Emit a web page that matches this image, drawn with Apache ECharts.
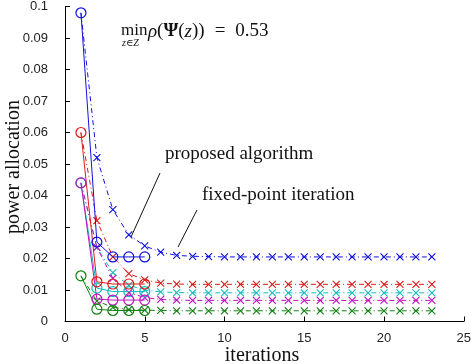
<!DOCTYPE html>
<html>
<head>
<meta charset="utf-8">
<script src="https://cdn.jsdelivr.net/npm/echarts@6/dist/echarts.min.js"></script>
<style>html,body{margin:0;padding:0;background:#fff;}#c{width:474px;height:364px;}</style>
</head>
<body>
<div id="c"></div>
<script>
// ---- data ----
var iterProposed = [1, 2, 3, 4, 5];
var iterFixed = [1, 2, 3, 4, 5, 6, 7, 8, 9, 10, 11, 12, 13, 14, 15, 16, 17, 18, 19, 20, 21, 22, 23];

var propBlue    = [0.098, 0.0252, 0.0205, 0.0205, 0.0205];
var propRed     = [0.060, 0.0126, 0.0119, 0.0119, 0.0119];
var propCyan    = [0.044, 0.0106, 0.0095, 0.0095, 0.0095];
var propMagenta = [0.044, 0.0071, 0.0068, 0.0068, 0.0068];
var propGreen   = [0.0145, 0.0039, 0.0035, 0.0035, 0.0035];

var fixBlue    = [0.098, 0.052, 0.0355, 0.0275, 0.024, 0.022, 0.021, 0.0207, 0.0206, 0.0205, 0.0205, 0.0205, 0.0205, 0.0205, 0.0205, 0.0205, 0.0205, 0.0205, 0.0205, 0.0205, 0.0205, 0.0205, 0.0205];
var fixRed     = [0.060, 0.032, 0.0205, 0.0152, 0.0132, 0.0122, 0.0119, 0.0118, 0.0118, 0.0118, 0.0118, 0.0118, 0.0118, 0.0118, 0.0118, 0.0118, 0.0118, 0.0118, 0.0118, 0.0118, 0.0118, 0.0118, 0.0118];
var fixCyan    = [0.044, 0.0235, 0.0155, 0.0115, 0.0100, 0.0094, 0.0092, 0.0091, 0.0091, 0.0091, 0.0091, 0.0091, 0.0091, 0.0091, 0.0091, 0.0091, 0.0091, 0.0091, 0.0091, 0.0091, 0.0091, 0.0091, 0.0091];
var fixMagenta = [0.044, 0.0235, 0.0137, 0.0092, 0.0076, 0.0070, 0.0068, 0.0067, 0.0067, 0.0067, 0.0067, 0.0067, 0.0067, 0.0067, 0.0067, 0.0067, 0.0067, 0.0067, 0.0067, 0.0067, 0.0067, 0.0067, 0.0067];
var fixGreen   = [0.0145, 0.0065, 0.0045, 0.0038, 0.0036, 0.0035, 0.0034, 0.0034, 0.0034, 0.0034, 0.0034, 0.0034, 0.0034, 0.0034, 0.0034, 0.0034, 0.0034, 0.0034, 0.0034, 0.0034, 0.0034, 0.0034, 0.0034];

var xTicks = [0, 5, 10, 15, 20, 25];
var yTicks = [0, 0.01, 0.02, 0.03, 0.04, 0.05, 0.06, 0.07, 0.08, 0.09, 0.1];

var colors = {blue: '#1010e0', red: '#e01818', cyan: '#10bcbc', magenta: '#c010c0', green: '#108010'};

var xMark = 'path://M0,0L10,10M10,0L0,10';

function fixedData(ys) {
  // the first point is shared with the circle of the proposed algorithm: no cross there
  return iterFixed.map(function (x, i) {
    return i === 0 ? {value: [x, ys[i]], symbol: 'none'} : {value: [x, ys[i]]};
  });
}
function propData(ys) { return iterProposed.map(function (x, i) { return [x, ys[i]]; }); }

function fixedSeries(ys, col) {
  return {
    type: 'line', data: fixedData(ys), symbol: xMark, symbolSize: 7,
    lineStyle: {color: col, width: 1, type: [5, 3, 1, 3]},
    itemStyle: {color: col, borderColor: col, borderWidth: 1.1},
    silent: true, animation: false, z: 2
  };
}
function propSeries(ys, col) {
  return {
    type: 'line', data: propData(ys), symbol: 'circle', symbolSize: 10,
    lineStyle: {color: col, width: 1, type: 'solid'},
    itemStyle: {color: 'rgba(0,0,0,0)', borderColor: col, borderWidth: 1.2},
    silent: true, animation: false, z: 3
  };
}

var chart = echarts.init(document.getElementById('c'), null, {renderer: 'canvas'});
var serif = '"Liberation Serif", "DejaVu Serif", serif';
var sans = '"Liberation Sans", Arial, sans-serif';

chart.setOption({
  animation: false,
  grid: {left: 65, right: 10, top: 6.5, bottom: 42.5},
  xAxis: {
    type: 'value', min: xTicks[0], max: xTicks[xTicks.length - 1], interval: 5,
    axisLine: {lineStyle: {color: '#000', width: 1}},
    axisTick: {inside: true, length: 5, lineStyle: {color: '#000'}},
    axisLabel: {color: '#222', fontFamily: sans, fontSize: 13, margin: 10},
    splitLine: {show: false}
  },
  yAxis: {
    type: 'value', min: yTicks[0], max: yTicks[yTicks.length - 1], interval: 0.01,
    axisLine: {show: true, lineStyle: {color: '#000', width: 1}},
    axisTick: {show: true, inside: true, length: 5, lineStyle: {color: '#000'}},
    axisLabel: {color: '#222', fontFamily: sans, fontSize: 13, margin: 17,
      formatter: function (v) { return String(Math.round(v * 100) / 100); }},
    splitLine: {show: false}
  },
  series: [
    fixedSeries(fixCyan, colors.cyan),
    fixedSeries(fixMagenta, colors.magenta),
    fixedSeries(fixGreen, colors.green),
    fixedSeries(fixRed, colors.red),
    fixedSeries(fixBlue, colors.blue),
    propSeries(propCyan, colors.cyan),
    propSeries(propMagenta, colors.magenta),
    propSeries(propGreen, colors.green),
    propSeries(propRed, colors.red),
    propSeries(propBlue, colors.blue)
  ],
  graphic: [
    {type: 'text', left: 121, top: 22, style: {text: 'min', font: '17px ' + serif, fill: '#111'}},
    {type: 'text', left: 122, top: 38, style: {text: 'z∈Z', font: 'italic 10px ' + serif, fill: '#111'}},
    {type: 'text', left: 148, top: 22, style: {
      text: '{i|ρ}{n|(}{b|Ψ}{n|(}{i|z}{n|))}{e|=}{n|0.53}',
      rich: {
        i: {font: 'italic 19px ' + serif, fill: '#111'},
        n: {font: '19px ' + serif, fill: '#111'},
        b: {font: 'bold 19px ' + serif, fill: '#111'},
        e: {font: '19px ' + serif, fill: '#111', padding: [0, 10, 0, 10]}
      }}},
    {type: 'text', left: 165, top: 145, style: {text: 'proposed algorithm', font: '19px ' + serif, fill: '#111'}},
    {type: 'text', left: 202, top: 186, style: {text: 'fixed-point iteration', font: '19px ' + serif, fill: '#111'}},
    {type: 'line', shape: {x1: 160, y1: 173, x2: 131, y2: 237}, style: {stroke: '#111', lineWidth: 1}},
    {type: 'line', shape: {x1: 197, y1: 210, x2: 178, y2: 247}, style: {stroke: '#111', lineWidth: 1}},
    {type: 'text', x: 14, y: 167, rotation: Math.PI / 2, style: {text: 'power allocation', font: '20px ' + serif, fill: '#111', textAlign: 'center', textVerticalAlign: 'middle'}},
    {type: 'text', x: 262, y: 356, style: {text: 'iterations', font: '20px ' + serif, fill: '#111', textAlign: 'center', textVerticalAlign: 'middle'}}
  ]
});
</script>
</body>
</html>
